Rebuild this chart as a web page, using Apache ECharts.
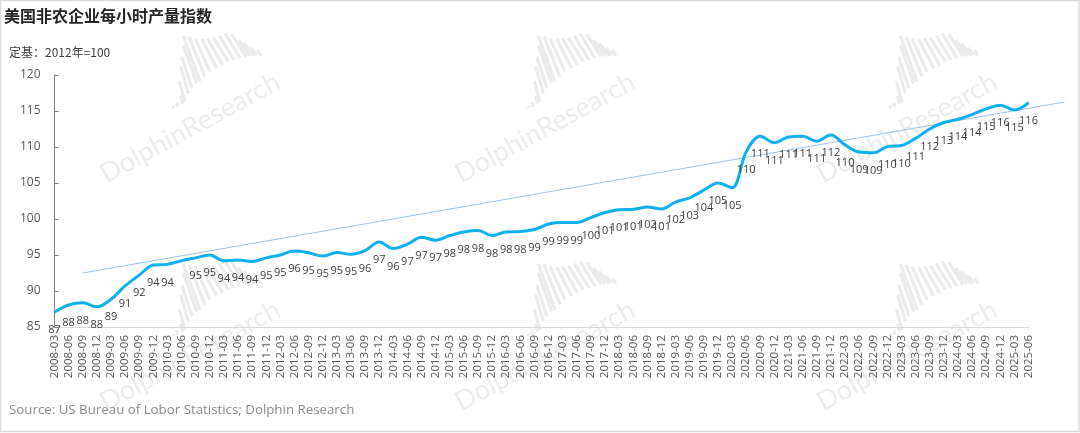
<!DOCTYPE html>
<html><head><meta charset="utf-8">
<style>html,body{margin:0;padding:0;background:#fff}#c{width:1080px;height:433px}</style>
<script src="https://cdn.jsdelivr.net/npm/echarts@6/dist/echarts.min.js"></script>
</head><body><div id="c"></div>
<script>
const titleText='美国非农企业每小时产量指数';
const unitText='定基：2012年=100';
const sourceText='Source: US Bureau of Lobor Statistics; Dolphin Research';
const watermarkText='DolphinResearch';
const categories=['2008-03','2008-06','2008-09','2008-12','2009-03','2009-06','2009-09','2009-12','2010-03','2010-06','2010-09','2010-12','2011-03','2011-06','2011-09','2011-12','2012-03','2012-06','2012-09','2012-12','2013-03','2013-06','2013-09','2013-12','2014-03','2014-06','2014-09','2014-12','2015-03','2015-06','2015-09','2015-12','2016-03','2016-06','2016-09','2016-12','2017-03','2017-06','2017-09','2017-12','2018-03','2018-06','2018-09','2018-12','2019-03','2019-06','2019-09','2019-12','2020-03','2020-06','2020-09','2020-12','2021-03','2021-06','2021-09','2021-12','2022-03','2022-06','2022-09','2022-12','2023-03','2023-06','2023-09','2023-12','2024-03','2024-06','2024-09','2024-12','2025-03','2025-06'];
const values=[87.08,88.05,88.38,87.8,88.85,90.7,92.2,93.6,93.7,94.2,94.6,95.0,94.2,94.3,94.1,94.6,95.0,95.55,95.3,94.85,95.35,95.1,95.6,96.8,95.9,96.5,97.45,97.05,97.7,98.2,98.4,97.7,98.2,98.25,98.55,99.3,99.5,99.5,100.2,100.9,101.3,101.35,101.65,101.4,102.35,102.95,104.0,105.0,104.35,109.35,111.5,110.6,111.4,111.5,110.8,111.65,110.3,109.3,109.2,110.05,110.2,111.2,112.5,113.4,113.85,114.5,115.3,115.8,115.15,116.15];
const printedLabels=[87,88,88,88,89,91,92,94,94,null,95,95,94,94,94,95,95,96,95,95,95,95,96,97,96,97,97,97,98,98,98,98,98,98,99,99,99,99,100,101,101,101,102,101,102,103,104,105,105,110,111,111,111,111,111,112,110,109,109,110,110,111,112,113,114,114,115,116,115,116];
const trendX=[2,71.5];
const trendY=[92.5,116.25];
const yTicks={min:85,max:120,step:5};
// watermark bars: top x, top y, bottom x, bottom y (decoration only)
const wmBars=[[0.7,71,2,72.7],[4.7,67.3,6,71.7],[8.7,60.7,10.7,68.7],[7.3,46,13,67],[8.7,31.7,16.3,58.3],[9.7,21.7,20,53.3],[11.3,10,24.7,48.3],[11.3,0.7,28,46.7],[17,1.7,33,41.7],[23,3.3,38,36.7],[29.7,4,44.7,33.3],[35.3,3.3,50.7,30],[41.3,2.7,56.3,26.7],[47.3,0.7,62,25],[53,-1.7,68,23.3],[59.7,-0.7,74,21.7],[66.3,5,78,20.7],[72,8.3,82.3,20.7],[78.7,12.7,84.7,20],[85.7,15,89,20.7]];
const wmCols=[0,355,717];
const wmRows=[0,228];

const gridLeft=54.5, gridRight=1028.5, trendEnd=1064.5;
const wmNodes=[];
wmCols.forEach(dx=>wmRows.forEach(dy=>{
  wmBars.forEach(b=>wmNodes.push({type:'line',z:-1,silent:true,
    shape:{x1:172+dx+b[0],y1:35+dy+b[1],x2:172+dx+b[2],y2:35+dy+b[3]},
    style:{stroke:'#ebebeb',lineWidth:3.2}}));
  wmNodes.push({type:'text',z:-1,silent:true,x:190+dx,y:128+dy,rotation:0.5,
    style:{text:watermarkText,fill:'#ececec',font:'27px Lato, "Open Sans", sans-serif',textAlign:'center',textVerticalAlign:'middle'}});
}));
wmNodes.push({type:'rect',z:-1,silent:true,shape:{x:0.5,y:0.5,width:1078.5,height:431},style:{fill:'none',stroke:'#dcdcdc',lineWidth:1.5}});
wmNodes.push({type:'text',x:9,y:52,style:{text:unitText,fill:'#404040',font:'12px "Noto Sans CJK SC"',textVerticalAlign:'middle'}});
wmNodes.push({type:'text',x:9,y:410,style:{text:sourceText,fill:'#8c8c8c',font:'13.3px "Open Sans"',textVerticalAlign:'middle'}});

const chart=echarts.init(document.getElementById('c'),null,{renderer:'canvas'});
chart.setOption({
  animation:false,
  backgroundColor:'#fff',
  title:{text:titleText,left:4,top:8,padding:0,textStyle:{fontFamily:'"Noto Sans CJK SC"',fontSize:16,fontWeight:'bold',color:'#262626'}},
  grid:[{left:gridLeft,right:1080-gridRight,top:75,height:252},
        {left:gridLeft,right:1080-trendEnd,top:75,height:252}],
  xAxis:[{type:'category',gridIndex:0,data:categories,boundaryGap:false,
    axisLine:{lineStyle:{color:'#d9d9d9',width:1}},axisTick:{show:false},
    axisLabel:{rotate:90,interval:0,margin:8,fontSize:11.5,color:'#595959',fontFamily:'"Open Sans"',padding:[5,0,0,0]}},
   {type:'value',gridIndex:1,show:false,min:0,max:trendX[1],splitLine:{show:false}}],
  yAxis:[{type:'value',gridIndex:0,min:yTicks.min,max:yTicks.max,interval:yTicks.step,splitLine:{show:false},
    axisLine:{show:true,onZero:false,lineStyle:{color:'#7f7f7f',width:1}},
    axisTick:{show:true,inside:true,length:4,lineStyle:{color:'#7f7f7f'}},
    axisLabel:{fontSize:12,margin:14,color:'#595959',fontFamily:'"Open Sans"'}},
   {type:'value',gridIndex:1,show:false,min:yTicks.min,max:yTicks.max,interval:yTicks.step,splitLine:{show:false}}],
  graphic:wmNodes,
  series:[
   {type:'line',name:'trend',xAxisIndex:1,yAxisIndex:1,data:trendX.map((x,i)=>[x,trendY[i]]),symbol:'none',silent:true,
    lineStyle:{color:'#9dc3e6',width:1}},
   {type:'line',name:'index',xAxisIndex:0,yAxisIndex:0,data:values,smooth:0.35,symbol:'circle',symbolSize:1,showSymbol:true,showAllSymbol:true,silent:true,
    itemStyle:{color:'#0fb0f0'},
    lineStyle:{color:'#0fb0f0',width:3},
    label:{show:true,position:'bottom',distance:12,fontSize:11,color:'#404040',fontFamily:'"Open Sans"',
      formatter:p=>printedLabels[p.dataIndex]==null?'':String(printedLabels[p.dataIndex])}}
  ]
});
</script></body></html>
